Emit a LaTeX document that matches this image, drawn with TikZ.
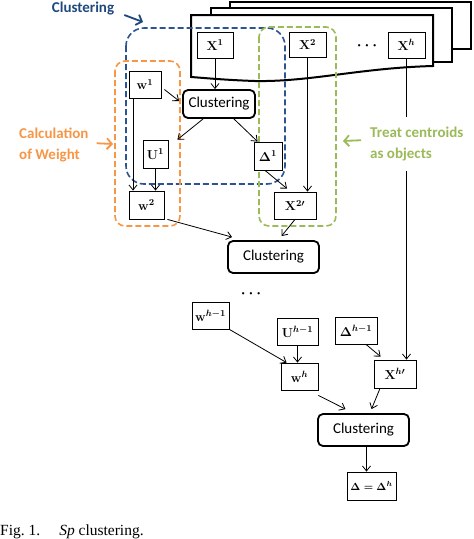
\RequirePackage{fix-cm}
\documentclass[tikz,border=0pt]{standalone}
\usepackage{fontspec}
\setsansfont{Carlito}
\newfontfamily\capfont{Liberation Serif}
\usetikzlibrary{arrows.meta}

\definecolor{clublue}{HTML}{1F497D}
\definecolor{grpblue}{HTML}{2C5490}
\definecolor{wtorange}{HTML}{F79646}
\definecolor{ctgreen}{HTML}{9BBB59}

\tikzset{
  box/.style={draw, fill=white, line width=0.8pt, inner sep=0pt,
    font=\fontsize{13}{15}\selectfont\boldmath},
  clubox/.style={draw, fill=white, line width=1.8pt, rounded corners=5pt,
    minimum height=28pt, inner sep=0pt, font=\sffamily\fontsize{15}{18}\selectfont},
  arr/.style={-{Straight Barb[length=5pt,width=8pt]}, line width=0.8pt},
  lab/.style={font=\sffamily\bfseries\fontsize{15}{21}\selectfont, inner sep=0pt, align=left},
  labarr/.style={-{Straight Barb[length=5pt,width=11pt]}, line width=1.8pt},
  group/.style={dash pattern=on 6pt off 3pt, line width=1.6pt},
  page/.style={draw, fill=white, line width=2pt},
}

\begin{document}
\begin{tikzpicture}[x=1pt, y=-1pt]
	
	\useasboundingbox (0,0) rectangle (474,539);
	
	% Stack of data sets
	\draw[page] (230,2) rectangle (471,49);
	\draw[page] (211,8) rectangle (452,62);
	\draw[page] (191,15) -- (433,15) -- (433,66)
	.. controls (360,68) and (310,82) .. (255,81)
	.. controls (225,80) and (205,78) .. (191,77) -- cycle;
	
	% Groups
	\draw[group, grpblue, rounded corners=18pt] (126,28) rectangle (285,184);
	\draw[group, wtorange, rounded corners=10pt] (115,61) rectangle (180,226);
	\draw[group, ctgreen, rounded corners=10pt] (259,27) rectangle (336,226);
	\coordinate (clutip) at (143,22);
	\coordinate (wttip) at (113,144);
	\coordinate (cttip) at (343,141);
	
	% First step
	\node[box, minimum width=36pt, minimum height=26pt] (x1) at (215,45) {$\mathbf{X}^{1}$};
	\node[box, minimum width=37pt, minimum height=25pt] (x2) at (307.5,44.5) {$\mathbf{X}^{2}$};
	\node[box, minimum width=37pt, minimum height=26pt] (xh) at (406.5,45) {$\mathbf{X}^{h}$};
	\node[font=\fontsize{15}{17}\selectfont\boldmath, inner sep=0pt] (dots1) at (367,46) {$\cdots$};
	\node[clubox, minimum width=72pt] (clu1) at (219,104) {Clustering};
	\node[box, minimum width=32pt, minimum height=27pt] (w1) at (145,84.5) {$\mathbf{w}^{1}$};
	\node[box, minimum width=25pt, minimum height=28pt] (u1) at (155.5,154) {$\mathbf{U}^{1}$};
	\node[box, minimum width=28pt, minimum height=28pt] (d1) at (268,156) {$\mathbf{\Delta}^{1}$};
	
	% Second step
	\node[box, minimum width=35pt, minimum height=28pt] (w2) at (146.5,205) {$\mathbf{w}^{2}$};
	\node[box, minimum width=42pt, minimum height=27pt] (x2p) at (295,205.5) {$\mathbf{X}^{2\prime}$};
	\node[clubox, minimum width=91pt, minimum height=32pt] (clu2) at (273.5,257) {Clustering};
	\node[font=\fontsize{15}{17}\selectfont\boldmath, inner sep=0pt] (dots2) at (251,294) {$\cdots$};
	
	% Last step
	\node[box, minimum width=37pt, minimum height=27pt] (wh1) at (210.5,315.5) {$\mathbf{w}^{h-1}$};
	\node[box, minimum width=41pt, minimum height=27pt] (uh1) at (297.5,331.5) {$\mathbf{U}^{h-1}$};
	\node[box, minimum width=42pt, minimum height=27pt] (dh1) at (356,330.5) {$\mathbf{\Delta}^{h-1}$};
	\node[box, minimum width=37pt, minimum height=27pt] (wh) at (299.5,376.5) {$\mathbf{w}^{h}$};
	\node[box, minimum width=42pt, minimum height=28pt] (xhp) at (395,374) {$\mathbf{X}^{h\prime}$};
	\node[clubox, minimum width=91pt, minimum height=32pt] (clu3) at (363.5,430) {Clustering};
	\node[box, minimum width=49pt, minimum height=28pt, font=\fontsize{10.5}{12}\selectfont\boldmath] (dfin) at (371.5,486) {$\mathbf{\Delta}=\mathbf{\Delta}^{h}$};
	
	% Connectors
	\draw[arr] (x1.south) -- (x1.south |- clu1.north);
	\draw[arr] ([shift={(3,5)}]w1.east) -- ([shift={(-3,-3)}]clu1.west);
	\draw[arr] ([xshift=21]clu1.south west) -- ([xshift=9]u1.north east);
	\draw[arr] ([xshift=-22]clu1.south east) -- ([xshift=4]d1.north west);
	\draw[arr] ([xshift=-12]w1.south) -- ([xshift=-12]w1.south |- w2.north);
	\draw[arr] (u1.south) -- (u1.south |- w2.north);
	\draw[arr] ([xshift=-3]d1.south) -- ([shift={(-8,-3)}]x2p.north);
	\draw[arr] (x2.south) -- (x2.south |- x2p.north);
	\draw[arr] (x2p.south) -- ([shift={(8,-4)}]clu2.north);
	\draw[arr] ([xshift=3]w2.south east) -- ([shift={(5,-3)}]clu2.north west);
	\draw[arr] (xh.south) -- (xh.south |- xhp.north);
	\draw[arr] (wh1.south east) -- ([xshift=6]wh.north west);
	\draw[arr] (uh1.south) -- (uh1.south |- wh.north);
	\draw[arr] ([xshift=10]dh1.south) -- ([shift={(7,-3)}]xhp.north west);
	\draw[arr] ([shift={(0,5)}]wh.south east) -- ([shift={(-18,-4)}]clu3.north);
	\draw[arr] ([xshift=-15]xhp.south) -- ([shift={(8,-4)}]clu3.north);
	\draw[arr] ([xshift=3]clu3.south) -- ([xshift=3]clu3.south |- dfin.north);
	
	% Labels
	\node[lab, text=clublue, anchor=base] (lbclu) at (83,12) {Clustering};
	\draw[labarr, clublue] ([shift={(10,7)}]lbclu.east) -- (clutip);
	\node[lab, text=wtorange, anchor=north west] (lbwt) at (19,128) {Calculation\\of Weight};
	\draw[labarr, wtorange] ([shift={(8,-2)}]lbwt.east) -- (wttip);
	\node[lab, text=ctgreen, anchor=north west, fill=white, inner xsep=2pt, inner ysep=10pt] (lbct) at (368,117) {Treat centroids\\as objects};
	\draw[labarr, ctgreen] ([shift={(-7,-4)}]lbct.west) -- (cttip);
	
	% Caption
	\node[anchor=base west, inner sep=0pt, font=\capfont\fontsize{15.5}{18}\selectfont] (cap) at (0,535) {Fig.~1.\hspace{19pt}\textit{Sp} clustering.};
	
\end{tikzpicture}
\end{document}
